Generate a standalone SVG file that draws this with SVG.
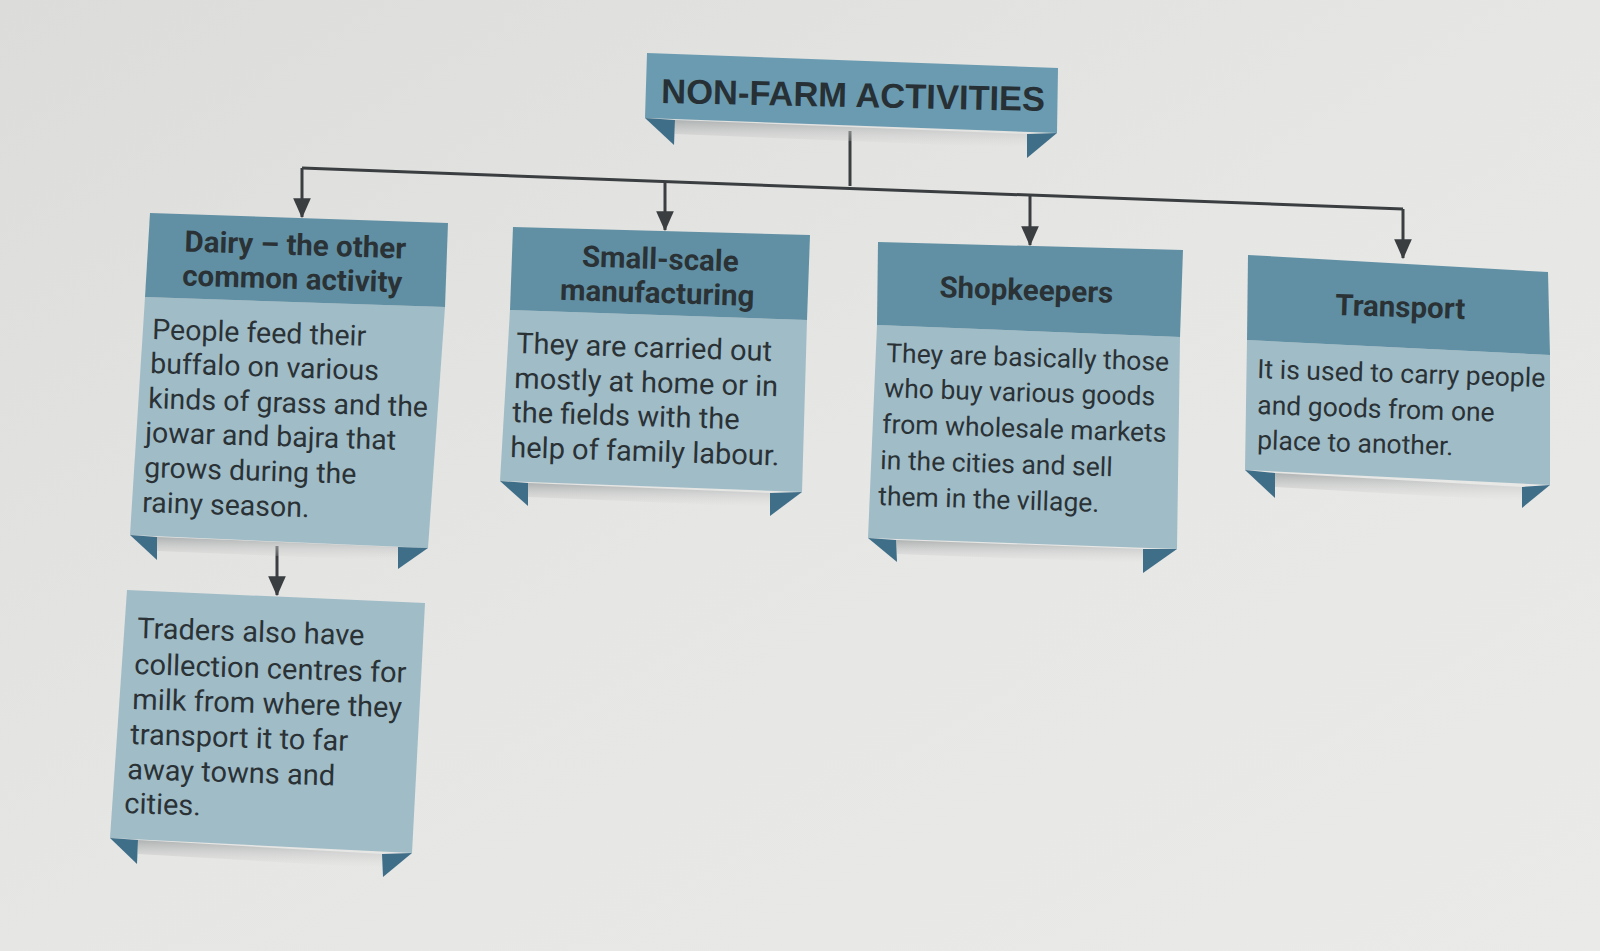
<svg xmlns="http://www.w3.org/2000/svg" width="1600" height="951" viewBox="0 0 1600 951">
<defs>
<linearGradient id="bg" x1="0" y1="0" x2="1" y2="1">
<stop offset="0" stop-color="#dcdcda"/>
<stop offset="0.5" stop-color="#e6e6e4"/>
<stop offset="1" stop-color="#eaeae8"/>
</linearGradient>
<linearGradient id="shadow" x1="0" y1="0" x2="0" y2="1">
<stop offset="0" stop-color="#a9adad" stop-opacity="0.9"/>
<stop offset="1" stop-color="#d8d9d8" stop-opacity="0"/>
</linearGradient>
<marker id="arrow" markerUnits="userSpaceOnUse" markerWidth="20" markerHeight="20" viewBox="0 -8 17 16" refX="16" refY="0" orient="auto">
<path d="M0,-7.5 L17,0 L0,7.5 z" fill="#3a3e40"/>
</marker>
</defs>
<style>
.title{fill:#6b9bb0}
.head{fill:#6190a4}
.body{fill:#a0bcc7}
.tab{fill:#3f6e88}
.shd{fill:url(#shadow)}
.t{font-family:Roboto,"Liberation Sans",sans-serif;fill:#2a3236}
.tb{font-size:29.5px;font-weight:bold}
.tt{font-family:"Liberation Sans",Arial,sans-serif;font-weight:bold;font-size:34.5px;fill:#263035}
.ln{fill:none;stroke:#3a3e40;stroke-width:3}
</style>
<rect width="1600" height="951" fill="url(#bg)"/>

<g id="connectors">
<path class="ln" d="M850,131 V186"/>
<path class="ln" d="M302,168 L1403,209"/>
<path class="ln" d="M302,168 V217" marker-end="url(#arrow)"/>
<path class="ln" d="M665,181.5 V230" marker-end="url(#arrow)"/>
<path class="ln" d="M1030,195 V245" marker-end="url(#arrow)"/>
<path class="ln" d="M1403,209 V258" marker-end="url(#arrow)"/>
<path class="ln" d="M277,546 V595" marker-end="url(#arrow)"/>
</g>

<g id="title">
<polygon class="shd" points="675,120 1027,134 1027,148 675,134"/>
<polygon class="title" points="647,53 1058,68 1057,133 645,118"/>
<polygon class="tab" points="645,118 675,120 674,145"/>
<polygon class="tab" points="1027,134 1057,133 1027,158"/>
<text class="tt" x="661" y="103" transform="rotate(1.2 661 103)">NON-FARM ACTIVITIES</text>
</g>

<g id="dairy">
<polygon class="shd" points="157,537 398,547 398,561 157,551"/>
<polygon class="body" points="145,297 445,307 428,548 130,535"/>
<polygon class="head" points="150,213 448,223 445,307 145,297"/>
<polygon class="tab" points="130,535 157,537 157,560"/>
<polygon class="tab" points="398,547 428,548 398,569"/>
<text class="t tb" text-anchor="middle" transform="rotate(1.8 295 255)"><tspan x="295" y="255">Dairy – the other</tspan><tspan x="293" y="289">common activity</tspan></text>
<g class="t" font-size="28.5">
<text x="152" y="339" transform="rotate(1.8 152 339)">People feed their</text>
<text x="150" y="373" transform="rotate(1.8 150 373)">buffalo on various</text>
<text x="148" y="408" transform="rotate(1.8 148 408)">kinds of grass and the</text>
<text x="145" y="442" transform="rotate(1.8 145 442)">jowar and bajra that</text>
<text x="144" y="477" transform="rotate(1.8 144 477)">grows during the</text>
<text x="142" y="512" transform="rotate(1.8 142 512)">rainy season.</text>
</g>
</g>

<g id="traders">
<polygon class="shd" points="138,840 382,854 382,868 138,854"/>
<polygon class="body" points="127,590 425,603 412,853 110,838"/>
<polygon class="tab" points="110,838 138,840 137,864"/>
<polygon class="tab" points="382,854 412,853 383,877"/>
<g class="t" font-size="29">
<text x="137" y="638" transform="rotate(1.8 137 638)">Traders also have</text>
<text x="134" y="674" transform="rotate(1.8 134 674)">collection centres for</text>
<text x="132" y="709" transform="rotate(1.8 132 709)">milk from where they</text>
<text x="130" y="744" transform="rotate(1.8 130 744)">transport it to far</text>
<text x="127" y="779" transform="rotate(1.8 127 779)">away towns and</text>
<text x="124" y="813" transform="rotate(1.8 124 813)">cities.</text>
</g>
</g>

<g id="smallscale">
<polygon class="shd" points="528,483 770,493 770,507 528,497"/>
<polygon class="body" points="510,310 807,320 802,492 500,481"/>
<polygon class="head" points="513,227 810,235 807,320 510,310"/>
<polygon class="tab" points="500,481 528,483 528,506"/>
<polygon class="tab" points="770,493 802,492 770,516"/>
<text class="t tb" text-anchor="middle" transform="rotate(1.8 660 269)"><tspan x="660" y="269">Small-scale</tspan><tspan x="658" y="303">manufacturing</tspan></text>
<g class="t" font-size="29">
<text x="516" y="353" transform="rotate(1.8 516 353)">They are carried out</text>
<text x="514" y="388" transform="rotate(1.8 514 388)">mostly at home or in</text>
<text x="512" y="422" transform="rotate(1.8 512 422)">the fields with the</text>
<text x="510" y="457" transform="rotate(1.8 510 457)">help of family labour.</text>
</g>
</g>

<g id="shopkeepers">
<polygon class="shd" points="896,540 1143,549 1143,563 896,554"/>
<polygon class="body" points="877,325 1180,337 1177,549 868,538"/>
<polygon class="head" points="878,242 1183,250 1180,337 877,325"/>
<polygon class="tab" points="868,538 896,540 897,562"/>
<polygon class="tab" points="1143,549 1177,549 1143,573"/>
<text class="t tb" text-anchor="middle" x="1026" y="300" transform="rotate(1.8 1026 300)">Shopkeepers</text>
<g class="t" font-size="26.5">
<text x="886" y="362" transform="rotate(1.8 886 362)">They are basically those</text>
<text x="884" y="397" transform="rotate(1.8 884 397)">who buy various goods</text>
<text x="882" y="433" transform="rotate(1.8 882 433)">from wholesale markets</text>
<text x="880" y="469" transform="rotate(1.8 880 469)">in the cities and sell</text>
<text x="878" y="505" transform="rotate(1.8 878 505)">them in the village.</text>
</g>
</g>

<g id="transport">
<polygon class="shd" points="1275,473 1522,487 1522,501 1275,487"/>
<polygon class="body" points="1247,340 1550,355 1550,485 1245,470"/>
<polygon class="head" points="1248,255 1548,272 1550,355 1247,340"/>
<polygon class="tab" points="1245,470 1275,473 1275,498"/>
<polygon class="tab" points="1522,487 1550,485 1522,508"/>
<text class="t tb" text-anchor="middle" x="1400" y="317" transform="rotate(1.8 1400 317)">Transport</text>
<g class="t" font-size="26.5">
<text x="1257" y="378" transform="rotate(1.8 1257 378)">It is used to carry people</text>
<text x="1257" y="414" transform="rotate(1.8 1257 414)">and goods from one</text>
<text x="1257" y="449" transform="rotate(1.8 1257 449)">place to another.</text>
</g>
</g>
</svg>
